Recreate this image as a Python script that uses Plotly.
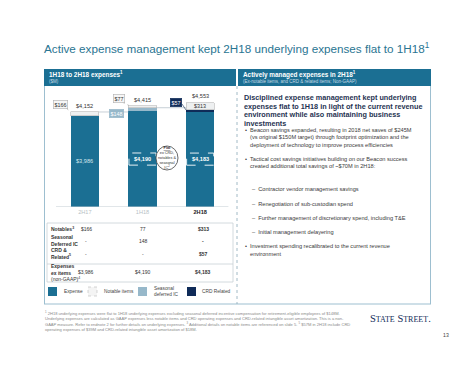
import plotly.graph_objects as go

W, H = 474, 366
OFF = 8  # page body margin of the browser
F = "Liberation Sans, Arial, sans-serif"

# ---------------- data ----------------
categories = ["2H17", "1H18", "2H18"]
expense = [3986, 4190, 4183]
seasonal = [0, 148, 0]
crd = [0, 0, 57]
notables = [166, 77, 313]
totals = [e + s + c + n for e, s, c, n in zip(expense, seasonal, crd, notables)]

table_labels = ["<b>Notables<sup>3</sup></b>", "<b>Seasonal<br>Deferred IC</b>",
                "<b>CRD &<br>Related<sup>5</sup></b>", "<b>Expenses<br>ex items</b><br>(non-GAAP)<sup>4</sup>"]
table_notables = ["$166", "77", "$313"]
table_seasonal = ["-", "148", "-"]
table_crd = ["-", "-", "$57"]
table_exitems = ["$3,986", "$4,190", "$4,183"]

legend_labels = ["Expense", "Notable items", "Seasonal<br>deferred IC", "CRD Related"]

BLUE = "#1b6f93"
LIGHTBLUE = "#97b8ca"
NAVY = "#0f2b58"
NOTE = "#eef0f1"
TEAL = "#2a7592"
BORDER = "#9dbfd0"


def X(px):
    return (px - OFF) / W


def Y(py):
    return 1 - (py - OFF) / H


fig = go.Figure()
fig.add_bar(x=categories, y=expense, marker_color=BLUE, marker_line_width=0, name="Expense")
fig.add_bar(x=categories, y=seasonal, marker_color=LIGHTBLUE, marker_line_width=0, name="Seasonal")
fig.add_bar(x=categories, y=crd, marker_color=NAVY, marker_line_width=0, name="CRD")
fig.add_bar(x=categories, y=notables, marker_color=NOTE, marker_line_color="#b5b5b5",
            marker_line_width=0.6, name="Notables")

ann = []
shapes = []


def txt(px, py, s, size, color="#333333", anchor="left", yanchor="middle", family=F):
    ann.append(dict(x=X(px), y=Y(py), xref="paper", yref="paper", text=s, showarrow=False,
                    xanchor=anchor, yanchor=yanchor, align=anchor if anchor != "center" else "center",
                    font=dict(size=size, color=color, family=family)))


def rect(x0, y0, x1, y1, fill=None, line=None, width=0.8, dash=None):
    d = dict(type="rect", xref="paper", yref="paper", x0=X(x0), x1=X(x1), y0=Y(y1), y1=Y(y0),
             fillcolor=fill if fill else "rgba(0,0,0,0)",
             line=dict(color=line if line else "rgba(0,0,0,0)", width=width if line else 0))
    if dash:
        d["line"]["dash"] = dash
    shapes.append(d)


def line(x0, y0, x1, y1, color, width=0.8, dash=None):
    d = dict(type="line", xref="paper", yref="paper", x0=X(x0), x1=X(x1), y0=Y(y0), y1=Y(y1),
             line=dict(color=color, width=width))
    if dash:
        d["line"]["dash"] = dash
    shapes.append(d)


# ---------------- title ----------------
txt(42, 48, "Active expense management kept 2H18 underlying expenses flat to 1H18<sup>1</sup>", 11.7, TEAL)

# ---------------- panels ----------------
rect(44, 69, 236, 86, fill=BLUE)
rect(238, 69, 431, 86, fill=BLUE)
line(44.5, 86, 44.5, 304, BORDER, 1)
line(44, 304, 431, 304, BORDER, 1)
line(430.5, 86, 430.5, 304, BORDER, 1)
line(237, 86, 237, 304, "#8aa8b8", 0.8, "dot")

txt(47, 74.5, "<b>1H18 to 2H18 expenses<sup>1</sup></b>", 6.4, "white")
txt(47, 81.8, "($M)", 4.5, "#c6dbe6")
txt(241, 74.5, "<b>Actively managed expenses in 2H18<sup>1</sup></b>", 6.4, "white")
txt(241, 81.8, "(Ex-notable items, and CRD & related items; Non-GAAP)", 4.5, "#c6dbe6")

# ---------------- bar chart decorations (data coords) ----------------
hw = 0.245
shapes.append(dict(type="line", xref="x", yref="y", x0=-0.57, x1=2.49, y0=0, y1=0,
                   line=dict(color="#c3ccd3", width=1)))
shapes.append(dict(type="line", xref="x", yref="y", x0=0 + hw, x1=1 - hw, y0=totals[0], y1=totals[0],
                   line=dict(color="#b9c4cc", width=0.8)))
shapes.append(dict(type="line", xref="x", yref="y", x0=1 + hw, x1=2 - hw,
                   y0=expense[1] + seasonal[1], y1=expense[1] + seasonal[1],
                   line=dict(color="#b9c4cc", width=0.8)))
for i in (1, 2):
    shapes.append(dict(type="rect", xref="x", yref="y", x0=i - 0.235, x1=i + 0.235,
                       y0=expense[i] / 2 - 265, y1=expense[i] / 2 + 265,
                       line=dict(color="white", width=0.9, dash="dash"), fillcolor="rgba(0,0,0,0)"))


def dann(i, yv, s, size, color="#333333", xshift=0, yshift=0, bg=None, border=None):
    d = dict(x=i, y=yv, xref="x", yref="y", text=s, showarrow=False, xshift=xshift, yshift=yshift,
             font=dict(size=size, color=color, family=F), xanchor="center", yanchor="middle")
    if bg:
        d["bgcolor"] = bg
    if border:
        d["bordercolor"] = border
        d["borderwidth"] = 0.6
        d["borderpad"] = 1
    ann.append(d)


# totals
for i, ys in zip(range(3), (6, 6, 7)):
    dann(i, totals[i], "$" + format(totals[i], ","), 5.6, yshift=ys)
# inside labels
dann(0, expense[0] / 2, "$" + format(expense[0], ","), 5.6, "#d6e6ee")
dann(1, expense[1] / 2, "<b>$" + format(expense[1], ",") + "</b>", 5.6, "white")
dann(2, expense[2] / 2, "<b>$" + format(expense[2], ",") + "</b>", 5.6, "white")
# notable / seasonal / crd callouts
dann(0, totals[0], "$" + str(notables[0]), 5.4, xshift=-24, yshift=7, bg="#f6f6f6", border="#b0b0b0")
dann(1, totals[1], "$" + str(notables[1]), 5.4, xshift=-24, yshift=7, bg="#f6f6f6", border="#b0b0b0")
dann(1, expense[1] + seasonal[1] / 2, "$" + str(seasonal[1]), 5.4, "white", xshift=-26, yshift=-4,
     bg=LIGHTBLUE, border=LIGHTBLUE)
dann(2, expense[2] + crd[2], "$" + str(crd[2]), 5.4, "white", xshift=-24, yshift=7, bg=NAVY, border=NAVY)
dann(2, expense[2] + crd[2] + notables[2] / 2, "$" + str(notables[2]), 5.4)

# leaders from callouts to bars
line(66, 108, 71, 112, "#9a9a9a", 0.6, "dot")
line(122, 102, 129, 105.5, "#9a9a9a", 0.6, "dot")
line(182, 104, 186, 110, NAVY, 0.6)

# "Flat" circle
shapes.append(dict(type="circle", xref="paper", yref="paper", x0=X(156), x1=X(178), y0=Y(170), y1=Y(146),
                   line=dict(color="#444444", width=0.8), fillcolor="white"))
txt(167, 158, "<b><u>Flat</u></b><br>ex CRD,<br>notables &<br>seasonal<br>IC<sup>2</sup>", 3.8, "#333333",
    anchor="center")

# ---------------- table ----------------
rect(47, 223, 233, 282, line="#c8d0d6", width=0.8)
line(47, 264, 233, 264, "#c8d0d6", 0.8)
col_x = [86, 143, 203]
row_y = [229, 240.5, 253.5, 272]
rows = [table_notables, table_seasonal, table_crd, table_exitems]
for r, (lab, vals) in enumerate(zip(table_labels, rows)):
    txt(49, row_y[r], lab, 5, "#333333")
    for c, v in enumerate(vals):
        s = "<b>" + v + "</b>" if c == 2 else v
        txt(col_x[c], row_y[r], s, 5, "#333333", anchor="center")

# ---------------- legend ----------------
sw = [(48, BLUE, None), (88, "#f4f4f4", "#bbbbbb"), (138, LIGHTBLUE, None), (187, NAVY, None)]
lab_x = [62, 102, 152, 200]
for (sx, col, ln), lab, lx in zip(sw, legend_labels, lab_x):
    if ln:
        rect(sx, 287, sx + 9, 296, fill=col, line=ln, width=0.6, dash="dot")
    else:
        rect(sx, 287, sx + 9, 296, fill=col)
    txt(lx, 291.5, lab, 4.8, "#444444")

# ---------------- right panel text ----------------
head = ["Disciplined expense management kept underlying",
        "expenses flat to 1H18 in light of the current revenue",
        "environment while also maintaining business",
        "investments"]
for i, s in enumerate(head):
    txt(241.5, 97.3 + i * 8.7, "<b>" + s + "</b>", 7.25, "#1f3352")

DARK = "#3a3a3a"
bul = [(130, True, "Beacon savings expanded, resulting in 2018 net saves of $245M"),
       (137.3, False, "(vs original $150M target) through footprint optimization and the"),
       (144.6, False, "deployment of technology to improve process efficiencies"),
       (159, True, "Tactical cost savings initiatives building on our Beacon success"),
       (166.3, False, "created additional total savings of ~$70M in 2H18:"),
       (246, True, "Investment spending recalibrated to the current revenue"),
       (253.5, False, "environment")]
for y, b, s in bul:
    if b:
        txt(242.5, y, "•", 5.6, DARK)
    txt(248, y, s, 5.65, DARK)
subs = [(189, "Contractor vendor management savings"),
        (203.5, "Renegotiation of sub-custodian spend"),
        (218, "Further management of discretionary spend, including T&E"),
        (232.5, "Initial management delayering")]
for y, s in subs:
    txt(249.5, y, "–  " + s, 5.65, DARK)

# ---------------- footer ----------------
foot = ["<sup>1</sup> 2H18 underlying expenses were flat to 1H18 underlying expenses excluding seasonal deferred incentive compensation for retirement-eligible employees of $148M.",
        "Underlying expenses are calculated as GAAP expenses less notable items and CRD operating expenses and CRD-related intangible asset amortization. This is a non-",
        "GAAP measure. Refer to endnote 2 for further details on underlying expenses. <sup>3</sup> Additional details on notable items are referenced on slide 5. <sup>5</sup> $57M in 2H18 include CRD",
        "operating expenses of $39M and CRD-related intangible asset amortization of $18M."]
for i, s in enumerate(foot):
    txt(43, 313 + i * 5.4, s, 4.05, "#8a8a8a")

txt(368, 318.5, "S<span style='font-size:8px'>TATE</span> S<span style='font-size:8px'>TREET</span>.", 10.5,
    NAVY, family="Liberation Serif, Times New Roman, serif")
txt(441, 335, "13", 5.2, "#444444")

fig.update_layout(
    width=W, height=H, margin=dict(l=0, r=0, t=0, b=0),
    paper_bgcolor="white", plot_bgcolor="rgba(0,0,0,0)",
    barmode="stack", bargap=0.51, showlegend=False,
    xaxis=dict(domain=[X(56), X(229)], range=[-0.5, 2.5], type="category",
               tickvals=categories,
               ticktext=["<span style='color:#b7bfc6'>2H17</span>",
                         "<span style='color:#b7bfc6'>1H18</span>",
                         "<b><span style='color:#222'>2H18</span></b>"],
               tickfont=dict(size=5.6, family=F), showgrid=False, showline=False, zeroline=False,
               ticks="", fixedrange=True),
    yaxis=dict(domain=[Y(207), Y(88)], range=[0, 5200], visible=False, fixedrange=True),
    annotations=ann, shapes=shapes,
)

fig.write_html("out.html")
